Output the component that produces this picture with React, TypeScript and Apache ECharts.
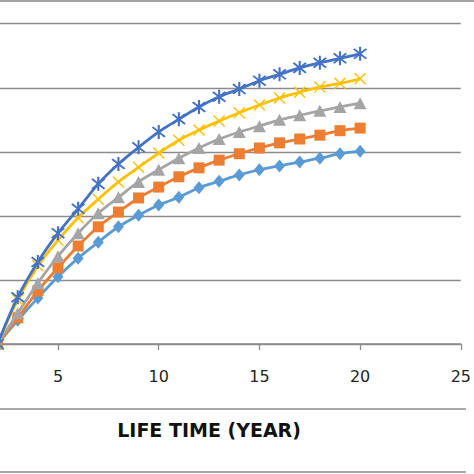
import React, { useEffect, useRef } from "react";
import * as echarts from "echarts";

// Years on the horizontal axis
const years: number[] = [2, 3, 4, 5, 6, 7, 8, 9, 10, 11, 12, 13, 14, 15, 16, 17, 18, 19, 20];

// Five curves, one value per year
const seriesStar: number[] = [0, 0.73, 1.28, 1.73, 2.11, 2.5, 2.81, 3.07, 3.31, 3.51, 3.7, 3.86, 3.98, 4.11, 4.21, 4.31, 4.39, 4.46, 4.53];
const seriesCross: number[] = [0, 0.69, 1.22, 1.62, 1.97, 2.26, 2.53, 2.76, 2.98, 3.18, 3.34, 3.48, 3.61, 3.73, 3.84, 3.93, 4.01, 4.07, 4.14];
const seriesTriangle: number[] = [0, 0.48, 0.95, 1.37, 1.73, 2.04, 2.29, 2.53, 2.72, 2.9, 3.06, 3.2, 3.31, 3.4, 3.5, 3.57, 3.64, 3.7, 3.76];
const seriesSquare: number[] = [0, 0.41, 0.83, 1.19, 1.53, 1.83, 2.06, 2.28, 2.45, 2.61, 2.75, 2.87, 2.97, 3.06, 3.14, 3.2, 3.26, 3.33, 3.37];
const seriesDiamond: number[] = [0, 0.37, 0.72, 1.05, 1.34, 1.59, 1.83, 2.01, 2.17, 2.29, 2.44, 2.54, 2.64, 2.72, 2.78, 2.84, 2.9, 2.97, 3.01];

const xTitle = "LIFE TIME (YEAR)";

// Marker outlines
const STAR_PATH =
  "path://M-1.2,-10L1.2,-10L1.2,10L-1.2,10Z M-7.9,-6.2L-6.2,-7.9L7.9,6.2L6.2,7.9Z M6.2,-7.9L7.9,-6.2L-6.2,7.9L-7.9,6.2Z";
const CROSS_PATH =
  "path://M-7.9,-6.6L-6.6,-7.9L7.9,6.6L6.6,7.9Z M6.6,-7.9L7.9,-6.6L-6.6,7.9L-7.9,6.6Z";

// The canvas starts left of the page so the value axis sits just outside the view
const SHIFT = 43;
const W = 474 + SHIFT;

const pair = (vals: number[]) => years.map((y, i) => [y, vals[i]]);

export default function App() {
  const ref = useRef<HTMLDivElement>(null);

  useEffect(() => {
    if (!ref.current) return;
    const chart = echarts.init(ref.current, null, { renderer: "svg" });

    const mk = (
      data: number[],
      color: string,
      symbol: string,
      size: number | number[],
      z: number
    ) => ({
      type: "line",
      data: pair(data),
      smooth: 0.35,
      symbol,
      symbolSize: size,
      showSymbol: true,
      z,
      lineStyle: { color, width: 2.8 },
      itemStyle: { color, borderWidth: 0 },
    });

    chart.setOption({
      animation: false,
      backgroundColor: "#ffffff",
      grid: { left: 0.3, right: 8, top: 23.7, bottom: 130, containLabel: false },
      xAxis: {
        type: "value",
        min: 0,
        max: 25,
        interval: 5,
        axisLine: { show: true, lineStyle: { color: "#8a8a8a", width: 1.5 } },
        axisTick: { show: true, inside: false, length: 6, lineStyle: { color: "#8a8a8a", width: 1.3 } },
        axisLabel: { color: "#262626", fontSize: 16, fontFamily: "DejaVu Sans", margin: 24, showMinLabel: false },
        splitLine: { show: false },
        name: xTitle,
        nameLocation: "middle",
        nameGap: 76,
        nameTextStyle: { color: "#111111", fontSize: 19, fontWeight: "bold", fontFamily: "DejaVu Sans" },
      },
      yAxis: {
        type: "value",
        min: 0,
        max: 5,
        interval: 1,
        axisLine: { show: false },
        axisTick: { show: false },
        axisLabel: { show: false },
        splitLine: { show: true, lineStyle: { color: "#8c8c8c", width: 1.4 } },
      },
      graphic: [
        { type: "line", shape: { x1: SHIFT, y1: 1, x2: W, y2: 1 }, style: { stroke: "#a3a3a3", lineWidth: 2 } },
        { type: "line", shape: { x1: SHIFT, y1: 409, x2: SHIFT + 466, y2: 409 }, style: { stroke: "#8c8c8c", lineWidth: 1.5 } },
        { type: "line", shape: { x1: SHIFT, y1: 472, x2: SHIFT + 466, y2: 472 }, style: { stroke: "#8c8c8c", lineWidth: 1.5 } },
      ],
      series: [
        mk(seriesDiamond, "#5B9BD5", "diamond", [11, 13], 2),
        mk(seriesSquare, "#ED7D31", "rect", 11, 3),
        mk(seriesTriangle, "#A5A5A5", "triangle", [13, 12], 4),
        mk(seriesCross, "#FFC000", CROSS_PATH, 12, 5),
        mk(seriesStar, "#4472C4", STAR_PATH, 14, 6),
      ],
    });

    return () => chart.dispose();
  }, []);

  return (
    <div style={{ position: "absolute", left: 0, top: 0, width: 474, height: 474, overflow: "hidden" }}>
      <div ref={ref} style={{ width: W, height: 474, position: "absolute", left: -SHIFT, top: 0 }} />
    </div>
  );
}
